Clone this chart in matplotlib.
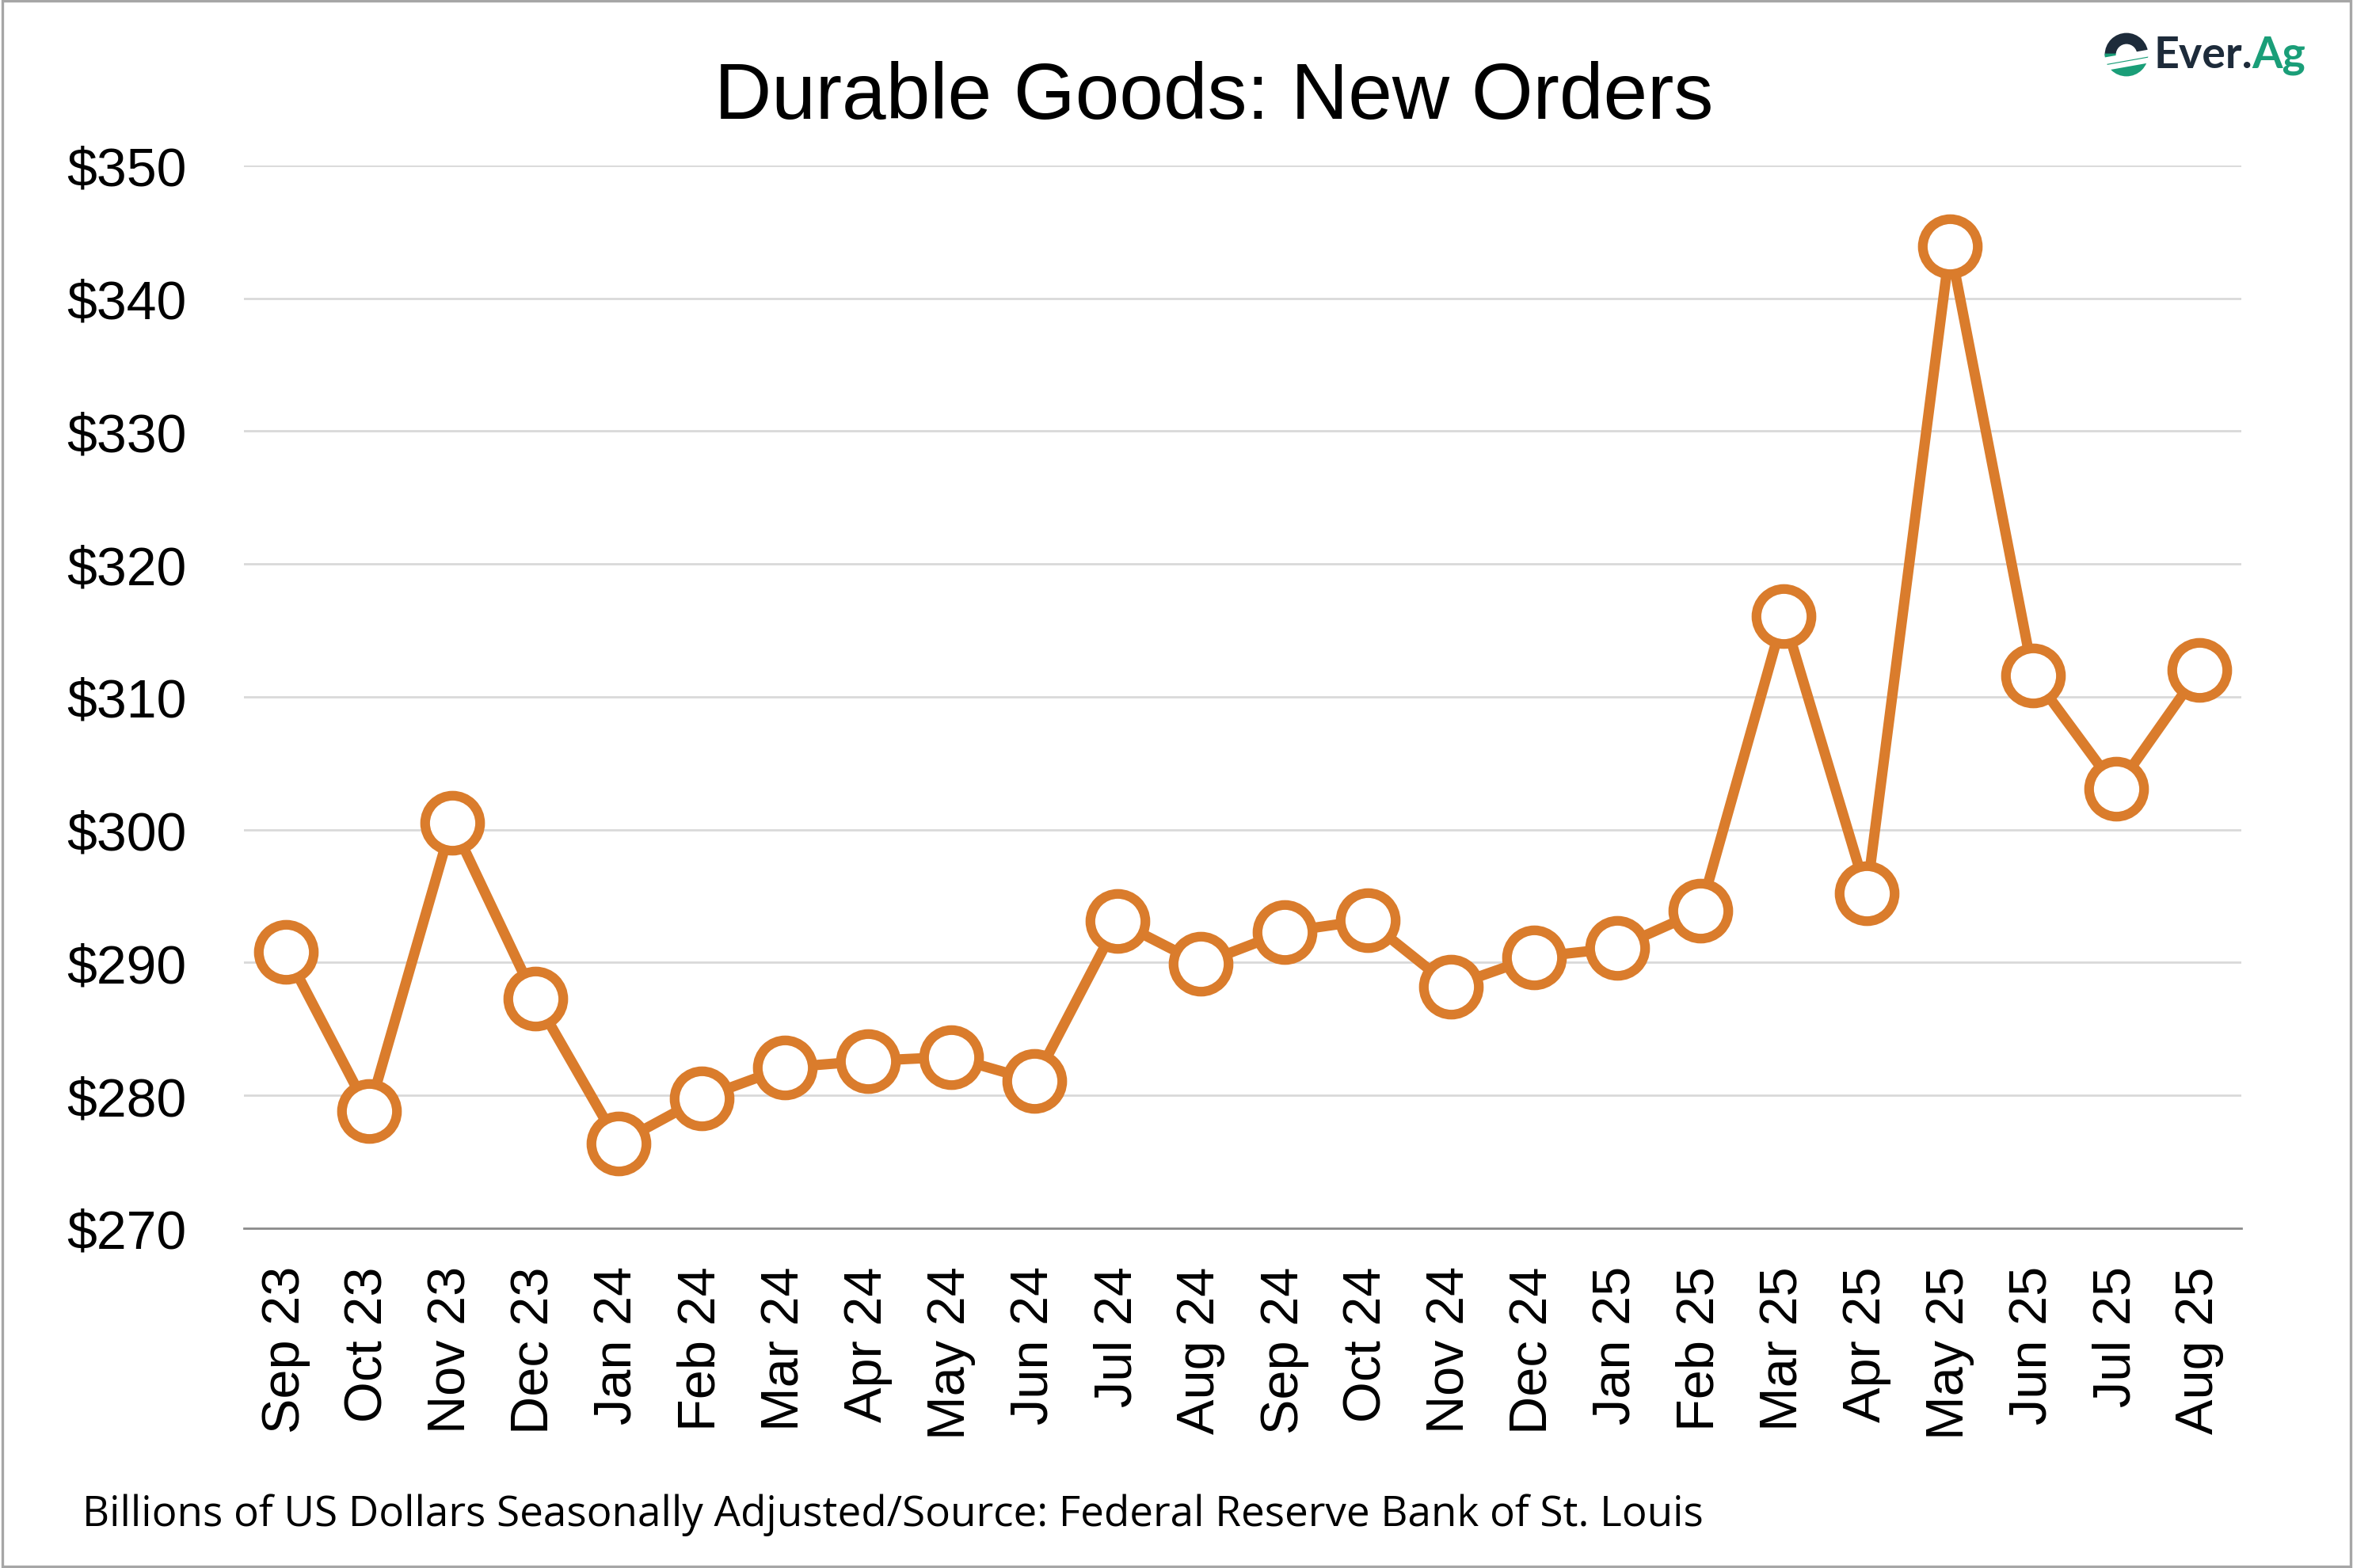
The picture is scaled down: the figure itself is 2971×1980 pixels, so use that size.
import matplotlib.pyplot as plt
from matplotlib.patches import Rectangle, Wedge, Polygon
import numpy as np

months = ["Sep 23", "Oct 23", "Nov 23", "Dec 23", "Jan 24", "Feb 24", "Mar 24", "Apr 24",
          "May 24", "Jun 24", "Jul 24", "Aug 24", "Sep 24", "Oct 24", "Nov 24", "Dec 24",
          "Jan 25", "Feb 25", "Mar 25", "Apr 25", "May 25", "Jun 25", "Jul 25", "Aug 25"]
orders = [290.8, 278.8, 300.5, 287.3, 276.4, 279.8, 282.1, 282.6,
          282.9, 281.1, 293.1, 289.9, 292.3, 293.2, 288.2, 290.4,
          291.1, 293.9, 316.1, 295.2, 343.9, 311.6, 303.1, 312.0]
yticks = [270, 280, 290, 300, 310, 320, 330, 340, 350]

W, H, DPI = 2971, 1981, 200
fig = plt.figure(figsize=(W / DPI, H / DPI), dpi=DPI)
fig.patch.set_facecolor("white")

# axes placed to match the reference pixel box
ax = fig.add_axes([308 / W, 1 - 1552 / H, (2830 - 308) / W, (1552 - 210) / H])

x = np.arange(len(months))
ax.plot(x, orders, color="#DA7C2C", lw=4.7, marker="o", ms=25,
        mfc="white", mec="#DA7C2C", mew=4.4, zorder=3, solid_joinstyle="round")

ax.set_xlim(-0.5, len(months) - 0.5)
ax.set_ylim(270, 350)
ax.set_yticks(yticks)
ax.set_yticklabels([f"${v}" for v in yticks], fontfamily="Liberation Sans", fontsize=24.5)
ax.set_xticks(x)
ax.set_xticklabels(months, rotation=90, fontfamily="Liberation Sans", fontsize=24)
ax.tick_params(axis="y", length=0, pad=26)
ax.tick_params(axis="x", length=0, pad=17)

ax.grid(axis="y", color="#d9d9d9", lw=1.0)
ax.set_axisbelow(True)
for s in ["top", "right", "left"]:
    ax.spines[s].set_visible(False)
ax.spines["bottom"].set_color("#8c8c8c")
ax.spines["bottom"].set_linewidth(1.0)

fig.text(1533 / W, 1 - 124 / H, "Durable Goods: New Orders", ha="center", va="center",
         fontfamily="Liberation Sans", fontsize=36)
fig.text(104 / W, 1 - 1913 / H,
         "Billions of US Dollars Seasonally Adjusted/Source: Federal Reserve Bank of St. Louis",
         ha="left", va="center", fontfamily="Open Sans", fontsize=19.1)

# logo: simple icon + wordmark
navy, green = "#1d2b3a", "#1a9e78"
lx = fig.add_axes([2655 / W, 1 - 105 / H, 270 / W, 65 / H])
lx.set_xlim(0, 270)
lx.set_ylim(0, 65)
lx.set_aspect("equal")
lx.axis("off")
lx.add_patch(Wedge((30, 35), 26, 0, 180, color=navy))
lx.add_patch(Wedge((30, 35), 26, 180, 360, color=green))
lx.add_patch(Wedge((30, 35), 12, 0, 180, color="white"))
lx.add_patch(Polygon([[2, 30], [58, 40], [58, 34], [2, 24]], color="white"))
lx.add_patch(Polygon([[2, 20], [58, 30], [58, 26], [2, 16]], color="white"))
lx.text(64, 35, "Ever.", color=navy, fontsize=20, fontweight="bold",
        fontfamily="Lato", va="center", ha="left")
lx.text(188, 35, "Ag", color=green, fontsize=20, fontweight="bold",
        fontfamily="Lato", va="center", ha="left")

fig.add_artist(Rectangle((0.001, 0.001), 0.998, 0.998, transform=fig.transFigure,
                         fill=False, ec="#a6a6a6", lw=1.2))

fig.savefig("out.png", dpi=DPI, facecolor="white")
